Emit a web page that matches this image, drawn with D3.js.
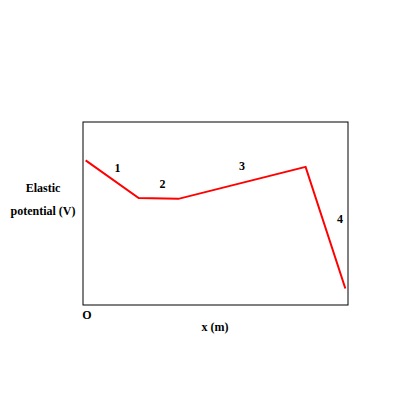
<!DOCTYPE html>
<html><head><script src="https://cdn.jsdelivr.net/npm/d3@7"></script>
<style>body{margin:0;background:#fff}text{font-family:"Liberation Serif",serif;font-weight:bold;font-size:12px}</style>
</head><body><svg id="c" width="400" height="400"></svg>
<script>
const xs = [0.1, 2.1, 3.6, 8.4, 9.9];
const ys = [7.9, 5.85, 5.8, 7.55, 0.9];
const segLabels = ["1", "2", "3", "4"];
const labelPos = [[1.3, 7.5], [3.0, 6.6], [6.0, 7.6], [9.7, 4.7]];

const svg = d3.select("#c");
const x = d3.scaleLinear().domain([0, 10]).range([83, 348]);
const y = d3.scaleLinear().domain([0, 10]).range([305, 122]);

svg.append("rect").attr("x", 83).attr("y", 122).attr("width", 265).attr("height", 183)
  .attr("fill", "none").attr("stroke", "#000").attr("stroke-width", 1);

svg.append("path").datum(xs.map((v, i) => [v, ys[i]]))
  .attr("d", d3.line().x(d => x(d[0])).y(d => y(d[1])))
  .attr("fill", "none").attr("stroke", "red").attr("stroke-width", 2);

svg.selectAll(".seg").data(segLabels).join("text")
  .attr("x", (d, i) => x(labelPos[i][0])).attr("y", (d, i) => y(labelPos[i][1]))
  .attr("text-anchor", "middle").attr("dy", "0.35em").attr("font-size", 11).text(d => d);

svg.append("text").attr("x", 87).attr("y", 319).attr("text-anchor", "middle").text("O");
svg.append("text").attr("x", 215).attr("y", 331).attr("text-anchor", "middle").text("x (m)");
svg.append("text").attr("x", 43).attr("y", 192).attr("text-anchor", "middle").text("Elastic");
svg.append("text").attr("x", 43).attr("y", 215).attr("text-anchor", "middle").text("potential (V)");
</script></body></html>
